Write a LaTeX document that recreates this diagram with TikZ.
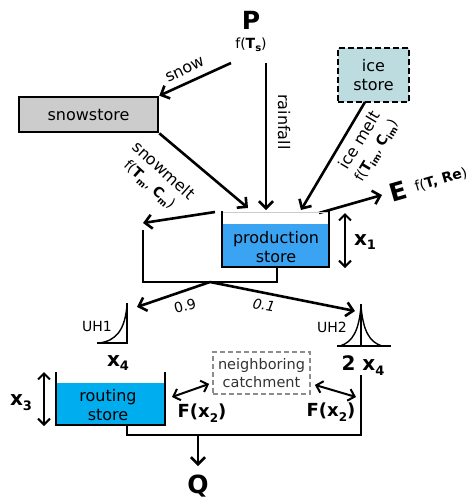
\documentclass[tikz,border=0pt]{standalone}
\usepackage{fontspec}
\setmainfont{DejaVu Sans}
\usetikzlibrary{arrows.meta,calc}
\definecolor{prodblue}{HTML}{3AA4F2}
\definecolor{routblue}{HTML}{00AEEF}
\definecolor{icefill}{HTML}{BDDCE0}
\definecolor{snowfill}{HTML}{CCCCCC}
\newcommand\dn[2]{\raisebox{-0.45ex}{\fontsize{#1}{#1}\selectfont #2}}
\newcommand\fs[1]{\fontsize{#1}{#1}\selectfont}
\begin{document}
\begin{tikzpicture}[x=1pt,y=-1pt,
  line/.style={line width=2.6pt},
  arr/.style={line width=2.6pt,-{Straight Barb[length=7pt,width=14pt]}},
  dbl/.style={line width=2pt,{Straight Barb[length=6pt,width=12pt]}-{Straight Barb[length=6pt,width=12pt]}},
  thinl/.style={line width=1.4pt},
  lbl/.style={inner sep=0pt,font=\fs{16}},
  small/.style={inner sep=0pt,font=\fs{14}},
  big/.style={inner sep=0pt,font=\bfseries\fs{25}},
  sym/.style={inner sep=0pt,font=\bfseries\fs{20}},
  boxtext/.style={font=\fontsize{16}{19}\selectfont, align=center, inner sep=0pt}]
\useasboundingbox (0,0) rectangle (474,499);

% precipitation
\node[big] (P) at (251,20) {P};
\node[small] (Pf) at (251,45) {f(\textbf{T}\dn{10}{\textbf{s}})};

% snowstore
\node[draw, fill=snowfill, line width=2.6pt, minimum width=139pt, minimum height=35pt, font=\fs{16}, inner sep=0pt] (snow) at (88.5,114.5) {snowstore};

% ice store
\node[draw, dash pattern=on 6pt off 3pt, fill=icefill, line width=2.3pt, minimum width=71pt, minimum height=54pt, boxtext, font=\fontsize{16}{19}\selectfont] (ice) at (373.5,75) {ice\\store};

% coordinates
\coordinate (snowS) at (231,63);
\coordinate (rainS) at (266,63);
\coordinate (rainE) at (266,210);
\coordinate (meltE) at (248,208);
\coordinate (iceS) at (365,102);
\coordinate (iceE) at (301,210);
\coordinate (evS) at (319,213);
\coordinate (evE) at (382,195);
\coordinate (byS) at (215,212);
\coordinate (byE) at (143,223);
\coordinate (byT) at (143,230);
\coordinate (byB) at (143,282);
\coordinate (prodOut) at (277,267);
\coordinate (split) at (210,282);
\coordinate (uh1In) at (137,307);
\coordinate (uh2In) at (355,311);

% snow
\draw[arr] (snowS) -- (snow.north east);
\node[lbl, rotate=26] (snowl) at (185,70) {snow};

% rainfall
\draw[arr] (rainS) -- (rainE);
\node[lbl, rotate=-90] (rainl) at (284,122) {rainfall};

% snowmelt
\draw[arr] (snow.south east) -- (meltE);
\node[lbl, rotate=-42] (meltl) at (164,170) {snowmelt};
\node[small, rotate=-42] (meltf) at (149,185) {f(\textbf{T}\dn{9}{\textbf{m}}, \textbf{C}\dn{9}{\textbf{m}})};

% ice melt
\draw[arr] (iceS) -- (iceE);
\node[lbl, rotate=59] (icel) at (359,140) {ice melt};
\node[small, rotate=59] (icef) at (377,151) {f(\textbf{T}\dn{9}{\textbf{im}}, \textbf{C}\dn{9}{\textbf{im}})};

% evaporation
\draw[arr] (evS) -- (evE);
\node[big, rotate=16] (E) at (398,191) {E};
\node[small, rotate=16] (Ef) at (441,180) {f(\textbf{T, Re})};

% production store
\fill[prodblue] (222,224) rectangle (329,267);
\draw[black!20, line width=1pt] (222,212) -- (329,212);
\draw[line] (222,211) -- (222,267) -- (329,267) -- (329,211);
\node[boxtext] (prod) at (276,247) {production\\store};
\draw[dbl] (345,213) -- (345,268);
\node[sym] (x1) at (365,242) {x\dn{13}{1}};

% bypass and split
\draw[arr] (byS) -- (byE);
\draw[line] (byT) -- (byB) -- (prodOut |- byB) -- (prodOut);
\draw[arr] (split) -- (uh1In);
\draw[arr] (split) -- (uh2In);
\node[small, rotate=15] (l09) at (185,306) {0.9};
\node[small, rotate=-10, font=\itshape\fs{14}] (l01) at (264,305) {0.1};

% UH1
\draw[thinl] (97,343) -- (127,343) -- (127,303);
\draw[thinl] (99,343) .. controls (116,341) and (125,330) .. (127,305);
\node[small] (uh1) at (97,326) {UH1};
\node[sym] (x4a) at (118,363) {x\dn{13}{4}};

% UH2
\draw[thinl] (337,346) -- (391,346);
\draw[line width=2pt] (361,347) -- (361,304);
\draw[thinl] (340,346) .. controls (353,342) and (359,330) .. (361,306) .. controls (363,330) and (369,342) .. (382,346);
\node[small] (uh2) at (332,327) {UH2};
\node[sym] (x4b) at (363,366) {2 x\dn{13}{4}};

% routing store
\fill[routblue] (56,383) rectangle (165,425);
\draw[line] (56,372) -- (56,425) -- (165,425) -- (165,372);
\node[boxtext] (rout) at (108,405) {routing\\store};
\draw[dbl] (44,372) -- (44,426);
\node[sym] (x3) at (21,403) {x\dn{13}{3}};

% neighboring catchment
\node[draw=black!45, dash pattern=on 5pt off 3pt, line width=1.8pt, minimum width=97pt, minimum height=42pt, align=center, inner sep=0pt, text=black!80, font=\fontsize{14.5}{18}\selectfont] (nb) at (261.5,373) {neighboring\\catchment};
\coordinate (exL) at (172,397);
\coordinate (exR) at (356,397);
\draw[dbl] (exL) -- ($(nb.south west)+(-3,-11)$);
\draw[dbl] ($(nb.south east)+(4,-10)$) -- (exR);
\node[sym, font=\bfseries\fs{18}] (F1) at (202,413) {F(x\dn{12}{2})};
\node[sym, font=\bfseries\fs{18}] (F2) at (331,412) {F(x\dn{12}{2})};

% outflow
\coordinate (uh2Out) at (361,375);
\coordinate (routOut) at (127,425);
\coordinate (qS) at (198,435);
\draw[line] (uh2Out) -- (361,435) -- (routOut |- qS) -- (routOut);
\draw[arr] (qS) -- (198,466);
\node[big] (Q) at (198,486) {Q};
\end{tikzpicture}
\end{document}
